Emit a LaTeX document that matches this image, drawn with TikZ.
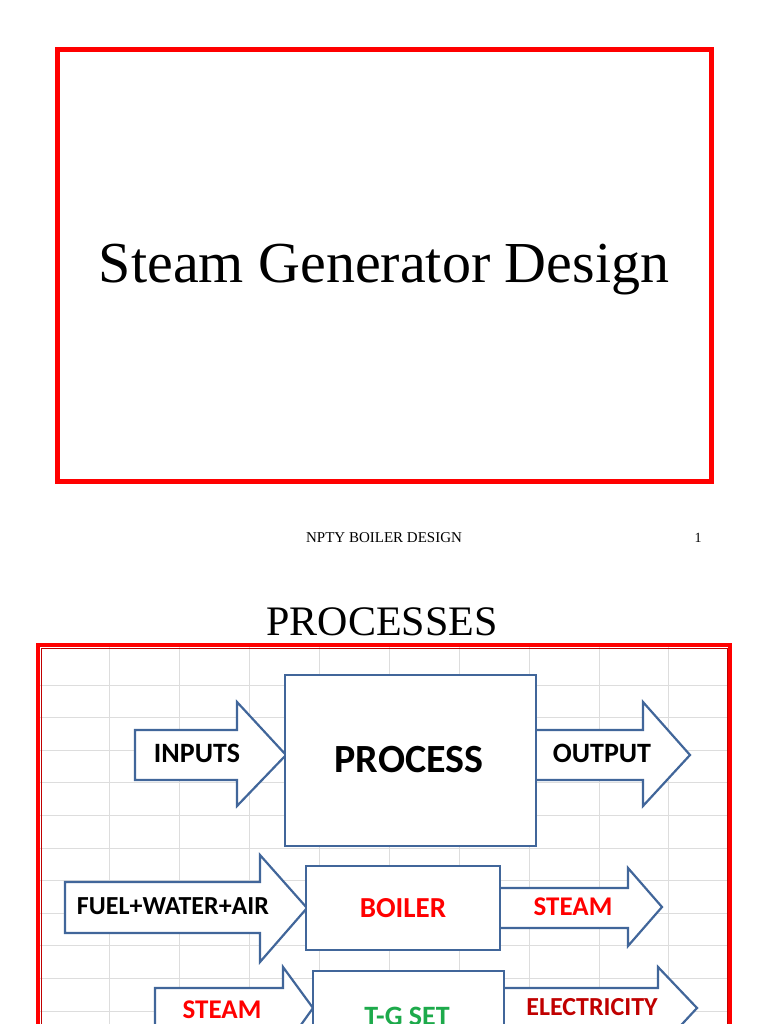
\documentclass[tikz,border=0pt]{standalone}
\usepackage{fontspec}
\setmainfont{Liberation Serif}
\newfontfamily\carl{Carlito}
\definecolor{bl}{HTML}{41669A}
\definecolor{rd}{HTML}{FF0000}
\definecolor{gr}{HTML}{DDDDDD}
\definecolor{tg}{HTML}{1DAA4B}
\definecolor{dr}{HTML}{C00000}
\begin{document}
\begin{tikzpicture}[x=1pt,y=-1pt,
  frame/.style={draw=rd,line width=5pt},
  arr/.style={draw=bl,line width=2.2pt,fill=white,line join=miter},
  pbox/.style={draw=bl,line width=2.2pt,fill=white},
  lab/.style={font=\carl\bfseries}]
\useasboundingbox (0,0) rectangle (768,1024);
\begin{scope}
\clip (0,0) rectangle (768,1024);
\draw[frame] (57,50) rectangle (711,481);
\node[font=\fontsize{58}{60}\selectfont] (title) at (384,270) {Steam Generator Design};
\node[font=\fontsize{15}{17}\selectfont] (foot) at (384,538) {NPTY BOILER DESIGN};
\node[font=\fontsize{14}{16}\selectfont] (pg) at (698,538) {1};
\node[font=\fontsize{42}{44}\selectfont] (ptitle) at (382,622) {PROCESSES};
% grid
\foreach \x in {109,179,249,319,389,459,529,599,668} \draw[gr,line width=1pt] (\x,647) -- (\x,1024);
\foreach \i in {0,...,10} \draw[gr,line width=1pt] (40,685+32.6*\i) -- (727,685+32.6*\i);
\draw[rd,line width=4pt] (38,645) rectangle (730,1040);
\draw[dr,line width=0.8pt] (41,648) rectangle (727,1040);
% process row
\draw[arr] (135,730) -- (237,730) -- (237,702) -- (286,755) -- (237,806) -- (237,780) -- (135,780) -- cycle;
\draw[arr] (535,730) -- (643,730) -- (643,702) -- (690,755) -- (643,806) -- (643,780) -- (535,780) -- cycle;
\node[pbox,minimum width=251,minimum height=171,anchor=north west] (proc) at (284,674) {};
\node[lab,font=\carl\bfseries\fontsize{40}{42}\selectfont] at (409,760) {PROCESS};
\node[lab,font=\carl\bfseries\fontsize{28}{30}\selectfont] (in) at (197,753) {INPUTS};
\node[lab,font=\carl\bfseries\fontsize{28}{30}\selectfont] (out) at (602,753) {OUTPUT};
% boiler row
\draw[arr] (65,882) -- (260,882) -- (260,855) -- (307,908) -- (260,962) -- (260,933) -- (65,933) -- cycle;
\draw[arr] (499,888) -- (628,888) -- (628,868) -- (662,907) -- (628,946) -- (628,928) -- (499,928) -- cycle;
\node[pbox,minimum width=194,minimum height=84,anchor=north west] (boil) at (305,865) {};
\node[lab,text=rd,font=\carl\bfseries\fontsize{29}{31}\selectfont] at (403,908) {BOILER};
\node[lab,font=\carl\bfseries\fontsize{26}{28}\selectfont] (fwa) at (173,906) {FUEL+WATER+AIR};
\node[lab,text=rd,font=\carl\bfseries\fontsize{27}{29}\selectfont] (st1) at (573,907) {STEAM};
% T-G row
\draw[arr] (155,988) -- (283,988) -- (283,967) -- (313,1008) -- (283,1050) -- (283,1030) -- (155,1030) -- cycle;
\draw[arr] (503,988) -- (658,988) -- (658,967) -- (697,1008) -- (658,1050) -- (658,1030) -- (503,1030) -- cycle;
\node[pbox,minimum width=191,minimum height=90,anchor=north west] (tg) at (312,970) {};
\node[lab,text=tg,font=\carl\bfseries\fontsize{28}{30}\selectfont] at (407,1016) {T-G SET};
\node[lab,text=rd,font=\carl\bfseries\fontsize{27}{29}\selectfont] (st2) at (222,1010) {STEAM};
\node[lab,text=dr,font=\carl\bfseries\fontsize{26}{28}\selectfont] (el) at (592,1007) {ELECTRICITY};
\end{scope}
\end{tikzpicture}
\end{document}
